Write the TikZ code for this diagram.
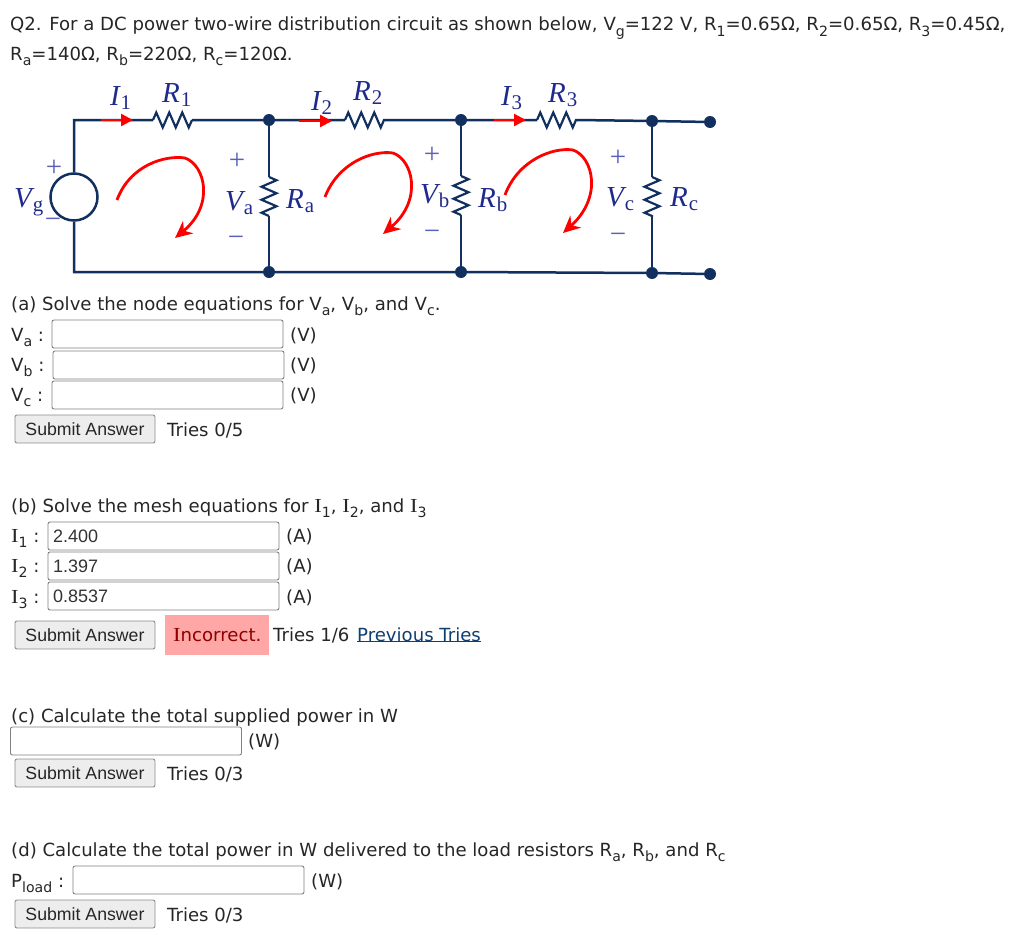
\documentclass[tikz,border=0pt]{standalone}
\usepackage{fontspec}
\usepackage{tikz}
\usetikzlibrary{arrows.meta}
\usetikzlibrary{decorations.pathmorphing}
\setmainfont{DejaVu Sans}
\newfontfamily\serifcct{Liberation Serif}
\newfontfamily\arialtxt{Liberation Sans}
\definecolor{wirecol}{HTML}{12305F}
\definecolor{labcol}{HTML}{1F2A8C}
\definecolor{signcol}{HTML}{5A5FB8}
\definecolor{linkcol}{HTML}{0F3E73}
\newcommand{\low}[1]{\raisebox{-0.3em}{\scalebox{0.78}{#1}}}
\newcommand{\capi}{\scalebox{1.25}[1.1]{\serifcct I}}
\newcommand{\cctlab}[2]{{\itshape #1}\hspace{0.03em}\raisebox{-0.14em}{\scalebox{0.72}{\upshape #2}}}
\tikzset{
	wire/.style={line width=2.5pt, draw=wirecol},
	resistor/.style={wire, line width=2.2pt, decorate, decoration={zigzag, segment length=13pt, amplitude=7.5pt}},
	dotnode/.style={circle, fill=wirecol, inner sep=0pt, minimum size=12pt},
	srcnode/.style={circle, draw=wirecol, line width=2.5pt, inner sep=0pt, minimum size=47pt},
	redarrow/.style={draw=red, line width=2.4pt, -{Triangle[length=12pt, width=12pt]}},
	meshturn/.style={draw=red, line width=2.8pt, -{Stealth[length=17pt, width=16pt]}},
	cct/.style={font=\serifcct\fontsize{29}{29}\selectfont, text=labcol, anchor=base west, inner sep=0pt},
	sign/.style={font=\serifcct\fontsize{29}{29}\selectfont, text=signcol, inner sep=0pt},
	txt/.style={font=\fontsize{18.1}{22}\selectfont, text=black!85, anchor=base west, inner sep=0pt},
	inbox/.style={draw=black!50, rounded corners=2pt, line width=0.9pt, fill=white, minimum width=231pt, minimum height=28pt, inner ysep=0pt, inner xsep=5pt, text width=221pt, align=left, font=\arialtxt\fontsize{18}{22}\selectfont, text=black!80},
	btn/.style={draw=black!45, fill=black!7, rounded corners=2pt, line width=0.9pt, minimum width=140pt, minimum height=28pt, inner sep=0pt, font=\arialtxt\fontsize{17.7}{22}\selectfont, text=black!85},
}
\begin{document}
\begin{tikzpicture}[x=1pt, y=-1pt]
\useasboundingbox (0,0) rectangle (1024,934);

% circuit nodes
\node[srcnode] (vg) at (74,197) {};
\node[dotnode] (ja) at (269,120) {};
\node[dotnode] (jb) at (461,120) {};
\node[dotnode] (jc) at (652,121) {};
\node[dotnode] (ka) at (269,272) {};
\node[dotnode] (kb) at (461,272) {};
\node[dotnode] (kc) at (652,273) {};
\node[dotnode] (tout) at (710,122) {};
\node[dotnode] (bout) at (710,274) {};
\coordinate (tl) at (74,120);
\coordinate (bl) at (74,272);
\coordinate (r1a) at (153,120);
\coordinate (r1b) at (192,120);
\coordinate (r2a) at (345,120);
\coordinate (r2b) at (385,120);
\coordinate (r3a) at (537,120);
\coordinate (r3b) at (577,120);
\coordinate (raa) at (269,177);
\coordinate (rab) at (269,216);
\coordinate (rba) at (461,176);
\coordinate (rbb) at (461,215);
\coordinate (rca) at (652,177);
\coordinate (rcb) at (652,217);

% wires
\draw[wire] (vg) -- (tl) -- (r1a) (r1b) -- (ja) -- (r2a) (r2b) -- (jb) -- (r3a) (r3b) -- (jc) -- (tout);
\draw[wire] (vg) -- (bl) -- (ka) -- (kb) -- (kc) -- (bout);
\draw[wire] (ja) -- (raa) (rab) -- (ka) (jb) -- (rba) (rbb) -- (kb) (jc) -- (rca) (rcb) -- (kc);
\draw[resistor] (r1a) -- (r1b);
\draw[resistor] (r2a) -- (r2b);
\draw[resistor] (r3a) -- (r3b);
\draw[resistor] (raa) -- (rab);
\draw[resistor] (rba) -- (rbb);
\draw[resistor] (rca) -- (rcb);

% current arrows
\coordinate (i1a) at (101,120);
\coordinate (i1b) at (133,120);
\coordinate (i2a) at (299,121);
\coordinate (i2b) at (332,121);
\coordinate (i3a) at (494,120);
\coordinate (i3b) at (526,120);
\draw[redarrow] (i1a) -- (i1b);
\draw[redarrow] (i2a) -- (i2b);
\draw[redarrow] (i3a) -- (i3b);
\coordinate (m1a) at (117,200);
\coordinate (m1b) at (175,238);
\coordinate (m2a) at (325,197);
\coordinate (m2b) at (383,234);
\coordinate (m3a) at (505,195);
\coordinate (m3b) at (563,233);
\draw[meshturn] (m1a) .. controls (130,165) and (165,155) .. (185,158) .. controls (205,165) and (215,205) .. (m1b);
\draw[meshturn] (m2a) .. controls (338,163) and (372,150) .. (393,153) .. controls (413,160) and (423,200) .. (m2b);
\draw[meshturn] (m3a) .. controls (518,160) and (553,147) .. (573,150) .. controls (593,157) and (603,197) .. (m3b);

% circuit labels
\node[cct] (li1) at (110,105) {\cctlab{I}{1}};
\node[cct] (lr1) at (162,102) {\cctlab{R}{1}};
\node[cct] (li2) at (311,110) {\cctlab{I}{2}};
\node[cct] (lr2) at (353,100) {\cctlab{R}{2}};
\node[cct] (li3) at (501,105) {\cctlab{I}{3}};
\node[cct] (lr3) at (548,102) {\cctlab{R}{3}};
\node[cct] (lvg) at (14,207) {\cctlab{V}{g}};
\node[cct] (lva) at (225,210) {\cctlab{V}{a}};
\node[cct] (lra) at (286,208) {\cctlab{R}{a}};
\node[cct] (lvb) at (420,203) {\cctlab{V}{b}};
\node[cct] (lrb) at (478,207) {\cctlab{R}{b}};
\node[cct] (lvc) at (606,206) {\cctlab{V}{c}};
\node[cct] (lrc) at (670,206) {\cctlab{R}{c}};
\node[sign] (pg) at (54,168) {+};
\node[sign] (mg) at (53,223) {\textminus};
\node[sign] (pa) at (237,161) {+};
\node[sign] (ma) at (236,241) {\textminus};
\node[sign] (pb) at (432,155) {+};
\node[sign] (mb) at (432,235) {\textminus};
\node[sign] (pc) at (618,158) {+};
\node[sign] (mc) at (618,238) {\textminus};

% question text
\node[txt] (q1) at (10,31) {Q2. For a DC power two-wire distribution circuit as shown below, V\low{g}=122 V, R\low{1}=0.65Ω, R\low{2}=0.65Ω, R\low{3}=0.45Ω,};
\node[txt] (q2) at (10,60) {R\low{a}=140Ω, R\low{b}=220Ω, R\low{c}=120Ω.};

% part a
\node[txt] (pta) at (11,310) {(a) Solve the node equations for V\low{a}, V\low{b}, and V\low{c}.};
\node[txt] (lba) at (11,341) {V\low{a} :};
\node[txt] (lbb) at (11,371) {V\low{b} :};
\node[txt] (lbc) at (11,401) {V\low{c} :};
\node[inbox] (ba) at (167.5,334) {};
\node[inbox] (bb) at (168.5,365) {};
\node[inbox] (bc) at (167.5,395) {};
\node[txt] (ua) at (290,341) {(V)};
\node[txt] (ub) at (290,371) {(V)};
\node[txt] (uc) at (290,401) {(V)};
\node[btn] (suba) at (85,429) {Submit Answer};
\node[txt] (tra) at (167,436) {Tries 0/5};

% part b
\node[txt] (ptb) at (11,512) {(b) Solve the mesh equations for \capi\low{1}, \capi\low{2}, and \capi\low{3}};
\node[txt] (li) at (11,542) {\capi\low{1} :};
\node[txt] (lj) at (11,572) {\capi\low{2} :};
\node[txt] (lk) at (11,603) {\capi\low{3} :};
\node[inbox] (bi) at (163.5,536) {2.400};
\node[inbox] (bj) at (163.5,566) {1.397};
\node[inbox] (bk) at (163.5,596) {0.8537};
\node[txt] (ui) at (286,542) {(A)};
\node[txt] (uj) at (286,572) {(A)};
\node[txt] (uk) at (286,603) {(A)};
\node[btn] (subb) at (85,635) {Submit Answer};
\node[fill={rgb,255:red,255;green,166;blue,166}, minimum width=104pt, minimum height=40pt, inner sep=0pt] (wrong) at (217,635) {};
\node[txt, text={rgb,255:red,140;green,0;blue,0}] (wrongt) at (173,641) {\capi ncorrect.};
\node[txt] (trb) at (273,641) {Tries 1/6};
\node[txt, text=linkcol] (prev) at (357,641) {Previous Tries};
\draw[linkcol, line width=0.9pt] (prev.south west) -- (prev.south east);

% part c
\node[txt] (ptc) at (11,722) {(c) Calculate the total supplied power in W};
\node[inbox] (bw) at (126,741) {};
\node[txt] (uw) at (248,747) {(W)};
\node[btn] (subc) at (85,773) {Submit Answer};
\node[txt] (trc) at (167,780) {Tries 0/3};

% part d
\node[txt] (ptd) at (11,856) {(d) Calculate the total power in W delivered to the load resistors R\low{a}, R\low{b}, and R\low{c}};
\node[txt] (lp) at (11,887) {P\low{load} :};
\node[inbox] (bp) at (188.5,880) {};
\node[txt] (up) at (311,887) {(W)};
\node[btn] (subd) at (85,914) {Submit Answer};
\node[txt] (trd) at (167,921) {Tries 0/3};
\end{tikzpicture}
\end{document}
